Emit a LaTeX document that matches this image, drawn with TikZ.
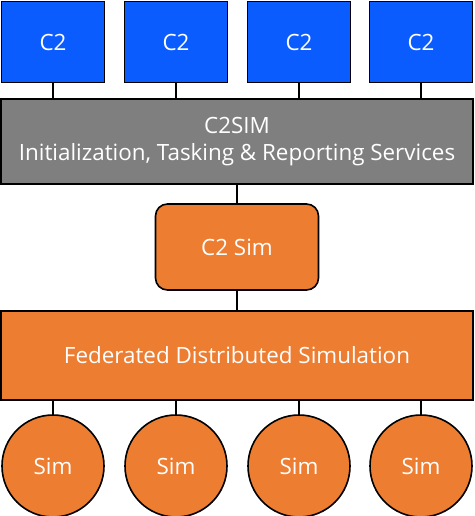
\documentclass[tikz,border=0pt]{standalone}
\usepackage{fontspec}
\setmainfont{Open Sans}
\usetikzlibrary{positioning}
\definecolor{ctwoblue}{HTML}{0B5CFF}
\definecolor{simorange}{HTML}{ED7D31}
\definecolor{svcgray}{HTML}{7F7F7F}
\begin{document}
\begin{tikzpicture}[x=1pt,y=-1pt,
  box/.style={draw=black,line width=1.6pt,text=white,font=\fontsize{22.4}{27}\selectfont,inner sep=0pt,align=center},
  ctwo/.style={box,fill=ctwoblue,minimum width=103pt,minimum height=81pt},
  sim/.style={box,fill=simorange,circle,minimum size=102pt},
  link/.style={line width=1.6pt}]
\useasboundingbox (0,0) rectangle (474,516);
\node[ctwo] (C1) at (53,42) {C2};
\node[ctwo] (C2) at (176,42) {C2};
\node[ctwo] (C3) at (299,42) {C2};
\node[ctwo] (C4) at (421,42) {C2};
\node[box,fill=svcgray,minimum width=472pt,minimum height=85pt] (svc) at (237,141.5) {C2SIM\\Initialization, Tasking \& Reporting Services};
\node[box,fill=simorange,rounded corners=12pt,minimum width=163pt,minimum height=86pt] (c2sim) at (237,247) {C2 Sim};
\node[box,fill=simorange,minimum width=472pt,minimum height=89pt] (fds) at (237,355.5) {Federated Distributed Simulation};
\node[sim] (S1) at (53,466) {Sim};
\node[sim] (S2) at (176,466) {Sim};
\node[sim] (S3) at (299,466) {Sim};
\node[sim] (S4) at (421,466) {Sim};
% connectors
\foreach \i in {1,...,4} {
  \draw[link] (C\i) -- (C\i |- svc.north);
  \draw[link] (S\i) -- (S\i |- fds.south);
}
\draw[link] (svc) -- (c2sim);
\draw[link] (c2sim) -- (fds);
\end{tikzpicture}
\end{document}
